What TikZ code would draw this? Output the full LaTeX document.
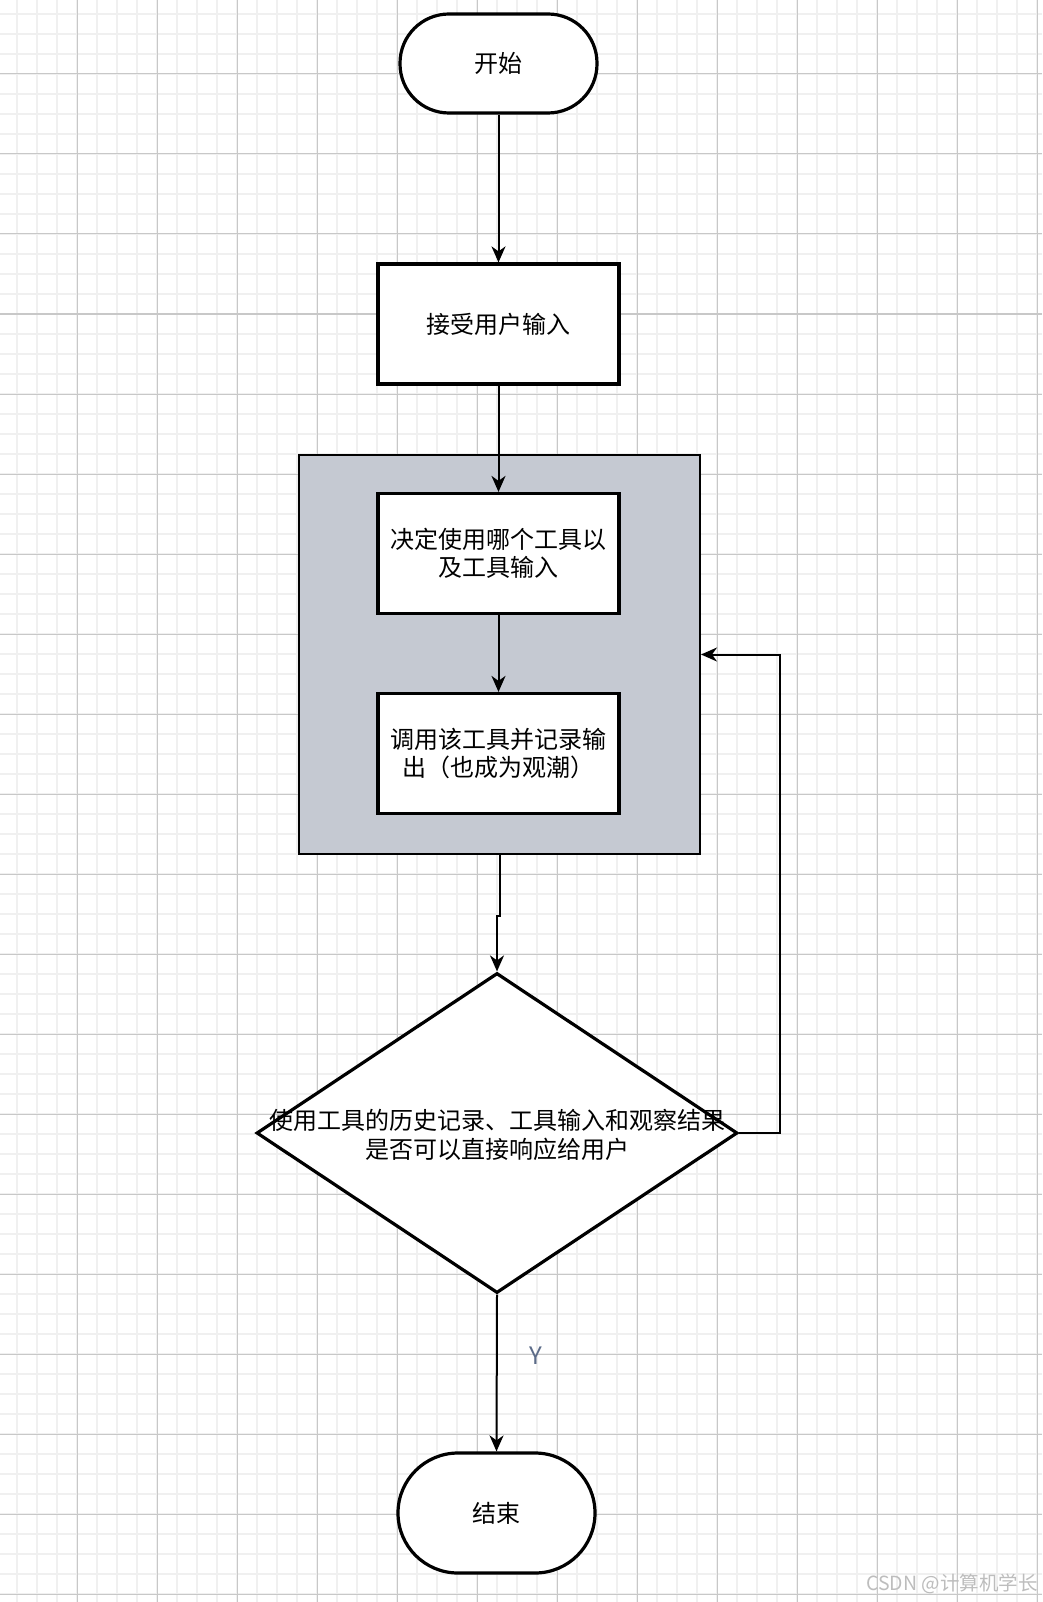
\documentclass[tikz,border=0pt]{standalone}
\usepackage{fontspec}
\usepackage{xcolor}
\usepackage{tikz}
\usetikzlibrary{shapes.geometric,arrows.meta}
\setmainfont{Noto Sans CJK SC}
\definecolor{gridminor}{HTML}{F0F0F0}
\definecolor{gridmajor}{HTML}{C8C8C8}
\definecolor{groupfill}{HTML}{C5C9D2}
\definecolor{yes}{HTML}{5B6B88}
\definecolor{mark}{HTML}{BDBDBD}

\begin{document}
\begin{tikzpicture}[
  x=1pt, y=-1pt,
  every node/.style={font=\fontsize{24}{28.5}\selectfont, align=center, inner sep=0pt},
  terminal/.style={draw, line width=3.2pt, fill=white, minimum width=197pt},
  stepbox/.style={draw, line width=3.2pt, fill=white, minimum width=241pt, minimum height=120pt},
  decision/.style={diamond, draw, line width=3.2pt, fill=white, minimum width=481pt, minimum height=320pt},
  arrow/.style={line width=2pt, -{Stealth[length=16pt, width=14pt, inset=5pt]}}
]
  \useasboundingbox (0,0) rectangle (1042,1602);
  \fill[white] (0,0) rectangle (1042,1602);
  \foreach \x in {17,37,...,1037}
    \draw[gridminor, line width=1.2pt] (\x,0) -- (\x,1602);
  \foreach \y in {14,34,...,1594}
    \draw[gridminor, line width=1.2pt] (0,\y) -- (1042,\y);
  \foreach \x in {77,157,...,1037}
    \draw[gridmajor, line width=1pt] (\x,0) -- (\x,1602);
  \foreach \y in {74,154,...,1594}
    \draw[gridmajor, line width=1pt] (0,\y) -- (1042,\y);

  \node[terminal, minimum height=99pt, rounded corners=49pt] (start) at (498.5,63.5) {开始};
  \node[stepbox] (input) at (498.5,324) {接受用户输入};
  \node[draw, line width=2pt, fill=groupfill, minimum width=401pt, minimum height=399pt] (group) at (499.5,654.5) {};
  \node[stepbox] (decide) at (498.5,553.5) {决定使用哪个工具以\\及工具输入};
  \node[stepbox] (call) at (498.5,753.5) {调用该工具并记录输\\出（也成为观潮）};
  \node[decision] (check) at (497,1133) {};
  \node (checktext) at (497,1135) {使用工具的历史记录、工具输入和观察结果\\是否可以直接响应给用户};
  \node[terminal, minimum height=120pt, rounded corners=60pt] (finish) at (496.5,1513) {结束};

  \draw[arrow] (start) -- (input);
  \draw[arrow] (input) -- (decide);
  \draw[arrow] (decide) -- (call);
  \draw[arrow] (group.south) -- ++(0,61) -| (check.north);
  \draw[arrow] (check.east) -- ++(41,0) |- (group.east);
  \draw[arrow] (check.south) -- (finish.north)
    node[pos=0.39, right=32pt, text=yes, font=\fontsize{24}{28}\selectfont] (yeslabel) {Y};

  \node[text=mark, font=\fontsize{19.5}{22}\selectfont] (watermark) at (952,1584) {CSDN @计算机学长};
\end{tikzpicture}
\end{document}
